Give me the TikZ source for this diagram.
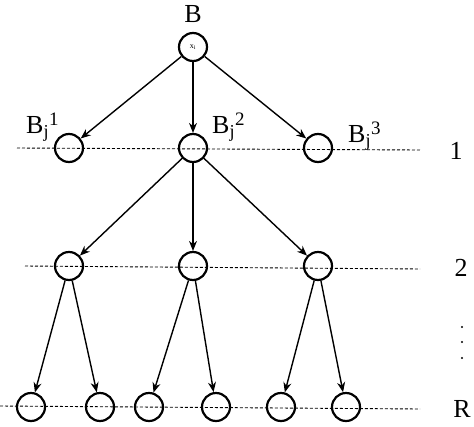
\documentclass[tikz,border=0pt]{standalone}
\usepackage{fontspec}
\setmainfont{Liberation Serif}
\usetikzlibrary{arrows.meta}
\begin{document}
\begin{tikzpicture}[x=1pt,y=-1pt,
  nd/.style={circle,draw,line width=2.2pt,minimum size=28pt,inner sep=0pt},
  arr/.style={line width=1.4pt,-{Stealth[length=10pt,width=8pt]}},
  lvl/.style={dash pattern=on 3pt off 2pt,line width=0.9pt},
  lab/.style={font=\fontsize{26}{28}\selectfont,inner sep=0pt},
  dt/.style={circle,fill,inner sep=0pt,minimum size=2.2pt}]
\useasboundingbox (0,0) rectangle (474,426);
% level lines
\draw[lvl] (17,148) -- (420,150);
\draw[lvl] (25,266) -- (420,269);
\draw[lvl] (0,406) -- (420,409);
% nodes
\node[nd] (r) at (193,47) {\fontsize{8}{9}\selectfont x\textsubscript{i}};
\node[nd] (a1) at (69,148) {};
\node[nd] (a2) at (193,148) {};
\node[nd] (a3) at (318,148) {};
\node[nd] (b1) at (69,266) {};
\node[nd] (b2) at (193,266) {};
\node[nd] (b3) at (318,266) {};
\node[nd] (c1) at (31,407) {};
\node[nd] (c2) at (100,407) {};
\node[nd] (c3) at (149,407) {};
\node[nd] (c4) at (216,407) {};
\node[nd] (c5) at (281,407) {};
\node[nd] (c6) at (346,407) {};
% arrows
\draw[arr] (r) -- (a1);
\draw[arr] (r) -- (a2);
\draw[arr] (r) -- (a3);
\draw[arr] (a2) -- (b1);
\draw[arr] (a2) -- (b2);
\draw[arr] (a2) -- (b3);
\draw[arr] (b1) -- (c1);
\draw[arr] (b1) -- (c2);
\draw[arr] (b2) -- (c3);
\draw[arr] (b2) -- (c4);
\draw[arr] (b3) -- (c5);
\draw[arr] (b3) -- (c6);
% labels
\node[lab] (lB) at (193,14) {B};
\node[lab,anchor=west] (l1) at (26,127) {B$_{\mathrm{j}}$\raisebox{8pt}{\fontsize{19}{21}\selectfont 1}};
\node[lab,anchor=west] (l2) at (212,127) {B$_{\mathrm{j}}$\raisebox{8pt}{\fontsize{19}{21}\selectfont 2}};
\node[lab,anchor=west] (l3) at (348,136) {B$_{\mathrm{j}}$\raisebox{8pt}{\fontsize{19}{21}\selectfont 3}};
\node[lab] (n1) at (456,151) {1};
\node[lab] (n2) at (461,268) {2};
\node[lab] (nR) at (462,409) {R};
\node[dt] (d1) at (462,327) {};
\node[dt] (d2) at (462,342) {};
\node[dt] (d3) at (462,358) {};
\end{tikzpicture}
\end{document}
